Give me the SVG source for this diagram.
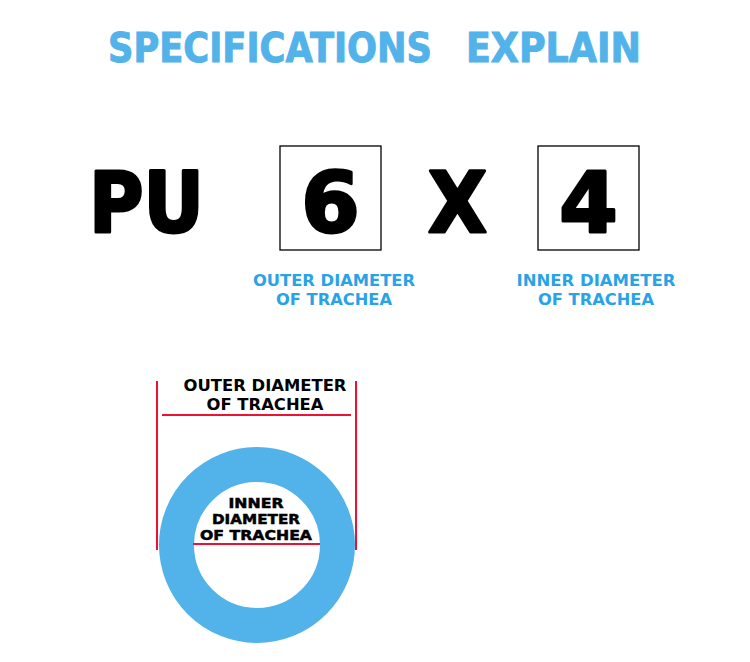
<svg xmlns="http://www.w3.org/2000/svg" width="750" height="662" viewBox="0 0 750 662">
<style>
.t{font-family:"DejaVu Sans","Liberation Sans",sans-serif;font-weight:bold;}
.title{fill:#52b2ea;stroke:#52b2ea;stroke-width:1;font-size:40px;}
.big{fill:#000;stroke:#000;stroke-width:3;stroke-linejoin:round;font-size:84px;}
.blue{fill:#29a3e6;font-size:16px;}
.blk{fill:#000;font-size:16px;}
.sm{fill:#000;stroke:#000;stroke-width:0.5;font-size:13.5px;}
.box{fill:none;stroke:#000;stroke-width:1.3;}
.red{stroke:#ee1133;stroke-width:2;}
</style>
<rect width="750" height="662" fill="#fff"/>
<g id="title">
<text class="t title" x="108" y="62" textLength="324" lengthAdjust="spacingAndGlyphs">SPECIFICATIONS</text>
<text class="t title" x="466" y="62" textLength="175" lengthAdjust="spacingAndGlyphs">EXPLAIN</text>
</g>
<g id="pu"><text class="t big" x="89" y="232" textLength="115" lengthAdjust="spacingAndGlyphs">PU</text></g>
<g id="box6">
<rect class="box" x="280" y="146" width="101" height="104"/>
<text class="t big" x="330.5" y="232" text-anchor="middle">6</text>
</g>
<g id="x"><text class="t big" x="428" y="232" textLength="59" lengthAdjust="spacingAndGlyphs">X</text></g>
<g id="box4">
<rect class="box" x="538" y="146" width="101" height="104"/>
<text class="t big" x="588.5" y="232" text-anchor="middle">4</text>
</g>
<g id="outerLabel">
<text class="t blue" x="334" y="286" text-anchor="middle" textLength="162" lengthAdjust="spacingAndGlyphs">OUTER DIAMETER</text>
<text class="t blue" x="334" y="305" text-anchor="middle" textLength="116" lengthAdjust="spacingAndGlyphs">OF TRACHEA</text>
</g>
<g id="innerLabel">
<text class="t blue" x="596" y="286" text-anchor="middle" textLength="159" lengthAdjust="spacingAndGlyphs">INNER DIAMETER</text>
<text class="t blue" x="596" y="305" text-anchor="middle" textLength="116" lengthAdjust="spacingAndGlyphs">OF TRACHEA</text>
</g>
<g id="ring"><circle cx="257" cy="545" r="80.5" fill="none" stroke="#52b2ea" stroke-width="35"/></g>
<g id="connectors">
<line class="red" x1="157" y1="381" x2="157" y2="550"/>
<line class="red" x1="356" y1="381" x2="356" y2="550"/>
<line class="red" x1="162" y1="415" x2="351" y2="415"/>
<line class="red" x1="193" y1="544" x2="320" y2="544"/>
</g>
<g id="outerDim">
<text class="t blk" x="265" y="391" text-anchor="middle" textLength="163" lengthAdjust="spacingAndGlyphs">OUTER DIAMETER</text>
<text class="t blk" x="265" y="410" text-anchor="middle" textLength="117" lengthAdjust="spacingAndGlyphs">OF TRACHEA</text>
</g>
<g id="innerDim">
<text class="t sm" x="256" y="508" text-anchor="middle" textLength="55" lengthAdjust="spacingAndGlyphs">INNER</text>
<text class="t sm" x="256" y="524" text-anchor="middle" textLength="88" lengthAdjust="spacingAndGlyphs">DIAMETER</text>
<text class="t sm" x="256" y="540" text-anchor="middle" textLength="112" lengthAdjust="spacingAndGlyphs">OF TRACHEA</text>
</g>
</svg>
